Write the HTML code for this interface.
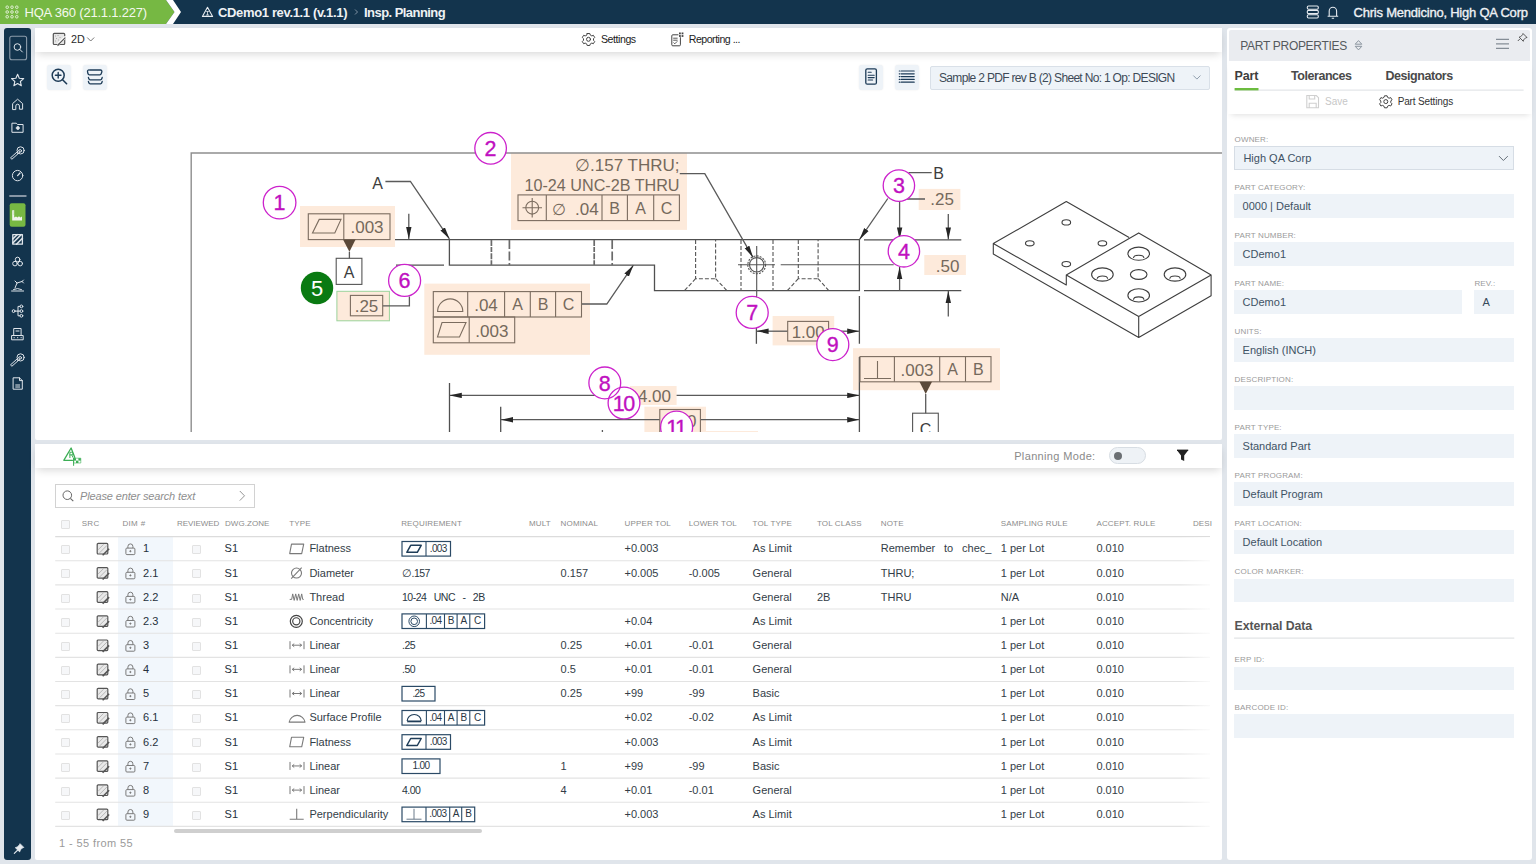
<!DOCTYPE html>
<html><head><meta charset="utf-8">
<style>
*{box-sizing:border-box;margin:0;padding:0}
html,body{width:1536px;height:864px;overflow:hidden}
body{position:relative;background:#e0e5eb;font-family:"Liberation Sans",sans-serif;color:#333}
.a{position:absolute}
.t{position:absolute;white-space:nowrap;line-height:1}
#topbar{left:0;top:0;width:1536px;height:24px;background:#13344d}
#side{left:4px;top:28px;width:27px;height:832px;background:#13344d;border-radius:3px}
#dpanel{left:35px;top:28px;width:1187px;height:412px;background:#fff;border-radius:2px;overflow:hidden}
#tpanel{left:35px;top:444px;width:1187px;height:416px;background:#fff;border-radius:2px;overflow:hidden}
#rpanel{left:1227.2px;top:28.2px;width:304.7px;height:832px;background:#fff;border-radius:3px;overflow:hidden}
.btn{position:absolute;width:24px;height:25px;background:#eef3f8;border-radius:3px;box-shadow:0 0 2px rgba(0,0,0,.08)}
</style></head><body>

<!-- TOP BAR -->
<div id="topbar" class="a">
<svg class="a" style="left:0;top:0" width="1536" height="24">
<polygon points="0,0 166,0 174.5,12 166,24 0,24" fill="#76b843"/>
<polygon points="166,0 173,0 181,12 173,24 166,24 174.5,12" fill="#ffffff"/>
<g fill="none" stroke="#e8f2dc" stroke-width="0.9">
<circle cx="7.2" cy="7.2" r="1.3"/><circle cx="12" cy="7.2" r="1.3"/><circle cx="16.8" cy="7.2" r="1.3"/>
<circle cx="7.2" cy="12" r="1.3"/><circle cx="12" cy="12" r="1.3"/><circle cx="16.8" cy="12" r="1.3"/>
<circle cx="7.2" cy="16.8" r="1.3"/><circle cx="12" cy="16.8" r="1.3"/><circle cx="16.8" cy="16.8" r="1.3"/>
</g>
<g fill="none" stroke="#e6ebf0" stroke-width="1.1" stroke-linejoin="round">
<path d="M207.5 7.3 L212.6 16.4 L202.4 16.4 Z"/>
<path d="M206.2 11.5 h2.6 M207.5 11.5 v3.5 M206 15 h3" stroke-width="0.8"/>
</g>
<path d="M355 9.5 L357.5 12 L355 14.5" fill="none" stroke="#8a9bab" stroke-width="0.9"/>
<g fill="none" stroke="#e6ebf0" stroke-width="1.1">
<rect x="1307.3" y="6" width="11" height="3.2" rx="1.2"/>
<rect x="1307.3" y="10.4" width="11" height="3.2" rx="1.2"/>
<rect x="1307.3" y="14.8" width="11" height="3.2" rx="1.2"/>
<path d="M1327.6 16.2 h10.6 M1329.2 16 v-5 a3.7 3.7 0 0 1 7.4 0 v5 M1331.7 18.2 h2.4"/>
</g>
</svg>
<div class="t" style="left:24.5px;top:6px;font-size:13px;color:#f4f8ee;letter-spacing:-0.2px">HQA 360 (21.1.1.227)</div>
<div class="t" style="left:218px;top:6px;font-size:13px;font-weight:bold;color:#eef1f4;letter-spacing:-0.35px">CDemo1 rev.1.1 (v.1.1)</div>
<div class="t" style="left:364px;top:6px;font-size:13px;font-weight:bold;color:#eef1f4;letter-spacing:-0.55px">Insp. Planning</div>
<div class="t" style="left:1353.5px;top:6px;font-size:13px;color:#eef1f4;letter-spacing:-0.22px;-webkit-text-stroke:0.35px #eef1f4">Chris Mendicino, High QA Corp</div>
</div>

<!-- SIDEBAR -->
<div id="side" class="a"></div>
<svg class="a" style="left:0;top:0" width="36" height="864">
<g fill="none" stroke="#dfe5eb" stroke-width="1" stroke-linejoin="round" stroke-linecap="round">
<rect x="9.8" y="36.3" width="16.8" height="23.5" rx="2" stroke="#8d9cab" stroke-width="1.1"/>
<circle cx="17.4" cy="47" r="3.3"/><path d="M19.8 49.4 L22.4 52"/>
<path d="M17.60 74.20 L19.30 78.25 L23.69 78.62 L20.36 81.50 L21.36 85.78 L17.60 83.50 L13.84 85.78 L14.84 81.50 L11.51 78.62 L15.90 78.25 Z" stroke-width="1.1"/>
<path d="M12.6 109.2 v-5.6 l5 -4.4 l5 4.4 v5.6 h-3.2 v-3.2 a1.8 1.8 0 0 0 -3.6 0 v3.2 Z"/>
<path d="M12.3 123.2 h4 l1.2 1.3 h5.6 v7.8 h-10.8 Z"/><path d="M16.6 127.2 l1.3 -0.8 l1.3 0.8 v1.6 l-1.3 0.8 l-1.3 -0.8 Z" fill="#dfe5eb"/>
<path d="M10.8 157.6 L16.6 152.4 L18 153.8 L12.2 159 Z"/><circle cx="20.6" cy="150.4" r="3.6"/><circle cx="20.2" cy="150.8" r="1.3"/><path d="M16.6 152.4 L18.4 150.6 M18 153.8 L19.8 152"/>
<circle cx="17.6" cy="175.6" r="5.2"/><path d="M17.6 175.6 l2.4 -2.6" stroke-width="1.3"/>
<path d="M10 196 h15.8" stroke="#8796a5" stroke-width="1.8"/>
</g>
<rect x="9.7" y="203.2" width="15.8" height="23.5" rx="2" fill="#77b843"/>
<path d="M12.2 210.3 H14.2 V217.5 L16 216.5 L17.5 217.6 L19 216.3 L20.3 217.6 L22 216.6 V220.6 H12.2 Z" fill="#f2f5ef"/>
<path d="M14.2 212 h-0.8 M14.2 214 h-0.8" stroke="#77b843" stroke-width="0.6"/>
<g fill="none" stroke="#dfe5eb" stroke-width="1" stroke-linejoin="round" stroke-linecap="round">
<rect x="12.8" y="234.6" width="9.6" height="9.6" stroke-width="1.3"/>
<path d="M12.8 239 l4.3 -4.3 M12.8 243 l8.3 -8.3 M16.5 244.2 l5.9 -5.9" stroke-width="1.6"/>
<circle cx="17.6" cy="259.5" r="2.3"/><circle cx="15" cy="263.6" r="2.3"/><circle cx="20.2" cy="263.6" r="2.3"/>
<path d="M11.6 291 h12 M13.5 289.5 q4 -2 8 0 M15 288 l2 -5 l5 -1.5 M17 283 l-2 -2 M22 281.5 l1.5 -1.5 M22 281.5 l1.5 1.5"/>
<circle cx="13.6" cy="311.1" r="1.4"/><circle cx="21.4" cy="306.4" r="1.4"/><circle cx="21.4" cy="311.1" r="1.4"/><circle cx="21.4" cy="315.8" r="1.4"/>
<path d="M15 311.1 h5 M18 311.1 v-4.7 h2 M18 311.1 v4.7 h2"/>
<rect x="14.1" y="328.5" width="7" height="7"/><path d="M12 335.5 h11.2 v4.3 h-11.2 Z M14 337.7 h0.3 M17.5 337.7 h0.3 M21 337.7 h0.3 M16 331 h3"/>
<path d="M10.8 364.6 L16.6 359.4 L18 360.8 L12.2 366 Z"/><circle cx="20.6" cy="357.4" r="3.6"/><circle cx="20.2" cy="357.8" r="1.3"/><path d="M16.6 359.4 L18.4 357.6 M18 360.8 L19.8 359"/>
<path d="M13.5 377.8 h6 l2.8 2.8 v8.6 h-8.8 Z M19.5 377.8 v2.8 h2.8 M15.7 385 h4 M15.7 387 h4"/>
<path d="M20.3 843.9 L23.8 847.4 L22.2 848.1 L20.4 849.9 L19.7 851.9 L15.3 847.7 L17.2 847 L19.1 845.2 Z" fill="#e8ecf0" stroke-width="0.8"/><path d="M17.8 850 L14.3 853.3" stroke-width="1.1"/>
</g>
</svg>

<!-- DRAWING PANEL -->
<div id="dpanel" class="a"></div>
<!-- DRAWING -->
<svg class="a" style="left:35px;top:52px" width="1187" height="380" viewBox="35 52 1187 380">
<defs>
<marker id="ar" viewBox="0 0 12 6" refX="12" refY="3" markerWidth="12" markerHeight="6" markerUnits="userSpaceOnUse" orient="auto"><path d="M0 0.3 L12 3 L0 5.7 Z" fill="#262626"/></marker>
</defs>
<!-- peach highlights -->
<g fill="#fdeadb">
<rect x="300" y="206" width="95" height="41"/>
<rect x="511" y="152.7" width="176" height="77.2"/>
<rect x="918.7" y="188.9" width="41.7" height="21.1"/>
<rect x="924.3" y="255" width="41.6" height="20"/>
<rect x="424.3" y="283.6" width="165.7" height="71.2"/>
<rect x="772.6" y="316" width="61.6" height="29.4"/>
<rect x="853" y="348.2" width="147" height="42"/>
<rect x="630" y="386" width="46.6" height="19"/>
<rect x="644.4" y="406.7" width="61.6" height="30"/>
<rect x="692" y="431" width="66" height="6"/>
</g>
<rect x="336.9" y="291.3" width="52.5" height="29.5" fill="#fdeadb" stroke="#9bd39b" stroke-width="1"/>
<!-- frame -->
<path d="M191.2 440 V153 H1230" fill="none" stroke="#8e8e8e" stroke-width="1.4"/>
<!-- part outline (front view) -->
<g fill="none" stroke="#505050" stroke-width="1.3">
<path d="M395 239.6 H449.4 M449.4 239.6 V265.2 H654.5 V290.7 H859.4 V239.6 H449.4"/>
<path d="M396 265.2 H444"/>
<path d="M864 239.8 H961.3 M864 290.7 H961.3"/>
<path d="M859.4 296 V343.8 M859.4 357 V440"/>
<path d="M449.5 383 V440 M500.7 406.8 V440"/>
<path d="M756.4 296 V343.8"/>
</g>
<!-- hidden lines -->
<g fill="none" stroke="#555" stroke-width="1.1" stroke-dasharray="4 2">
<path d="M491.4 240 V265 M594.2 240 V265" stroke="#6a6a6a" stroke-width="1.7" stroke-dasharray="6 1 5 1.2"/>
<path d="M509.4 240 V265 M612.2 240 V265" stroke="#6a6a6a" stroke-width="1.7" stroke-dasharray="9 2.5"/>
<path d="M695.6 240 V278.7 H715.6 V240 M695.6 278.7 L684.4 290.7 M715.6 278.7 L727 290.7"/>
<path d="M798.3 240 V278.7 H818.1 V240 M798.3 278.7 L787.2 290.7 M818.1 278.7 L828.9 290.7"/>
<path d="M741 240 V290.7 M773 240 V290.7"/>
<circle cx="756.7" cy="264.8" r="8.9" stroke-dasharray="2 1.2"/>
</g>
<g fill="none" stroke="#555" stroke-width="1.1">
<circle cx="756.7" cy="264.8" r="7.2"/>
<path d="M738 264.8 H775 M780.7 264.8 H893.7 M756.7 246 V296"/>
</g>
<!-- leaders & dims -->
<g fill="none" stroke="#5a5a5a" stroke-width="1.3">
<path d="M385.4 181.5 H410.4 L449.4 238.8" marker-end="url(#ar)"/>
<path d="M408.8 213.8 V239" marker-end="url(#ar)"/>
<path d="M679.8 173.7 H704.8 L753 257.4" marker-end="url(#ar)"/>
<path d="M581.5 304 H606.8 L633.4 265.2" marker-end="url(#ar)"/>
<path d="M887.8 198.5 L859.6 239.4" marker-end="url(#ar)"/>
<path d="M899.6 201 V239.4" marker-end="url(#ar)"/>
<path d="M948.3 213.9 V239.4" marker-end="url(#ar)"/>
<path d="M899.6 290.7 V267" marker-end="url(#ar)"/>
<path d="M948.3 316.6 V291" marker-end="url(#ar)"/>
<path d="M908.5 172.6 H931.7 M904.8 199 H925"/>
<path d="M382.7 305.8 H409.4 V296.5"/>
<path d="M349.4 251.7 V258.3"/>
<path d="M925.7 394 V413.2"/>
<path d="M787.7 331.2 H756.6" marker-end="url(#ar)"/>
<path d="M828.6 331.2 H859.2" marker-end="url(#ar)"/>
<path d="M620 395.4 H449.8" marker-end="url(#ar)"/>
<path d="M676.6 395.4 H859.2" marker-end="url(#ar)"/>
<path d="M659.8 419.7 H501" marker-end="url(#ar)"/>
<path d="M700.4 419.7 H859.2" marker-end="url(#ar)"/>
<path d="M602.4 430 V440"/>
</g>
<!-- FCF boxes -->
<g fill="none" stroke="#7b6c5f" stroke-width="1.1">
<rect x="308.3" y="213.8" width="81.7" height="25.8"/><path d="M343.8 213.8 V239.6"/>
<path d="M319.2 219.4 H341 L334.8 233 H312.5 Z"/>
<rect x="518" y="194.9" width="161.4" height="25.7"/>
<path d="M546.3 194.9 V220.6 M602 194.9 V220.6 M627.4 194.9 V220.6 M653.7 194.9 V220.6"/>
<circle cx="532.2" cy="207.7" r="6.4"/><path d="M522.5 207.7 H542 M532.2 198 V217.5"/>
<rect x="433.3" y="291.6" width="148.2" height="25.4"/>
<path d="M467.7 291.6 V317 M504.6 291.6 V317 M530.3 291.6 V317 M555.6 291.6 V317"/>
<rect x="433.3" y="317" width="81.4" height="25.8"/><path d="M469.2 317 V342.8"/>
<path d="M437.6 311.5 A12.6 12.6 0 0 1 462.8 311.5 Z"/>
<path d="M442 322.5 H466 L459.5 337 H437.5 Z"/>
<rect x="350.4" y="295.4" width="32.3" height="20.4"/>
<rect x="336.2" y="258.3" width="25.7" height="26.1" stroke="#555"/>
<rect x="787.7" y="321.4" width="40.9" height="19.6"/>
<rect x="860" y="356.6" width="131" height="25.2"/>
<path d="M894.4 356.6 V381.8 M939.7 356.6 V381.8 M965.5 356.6 V381.8"/>
<path d="M864 378.5 H891 M877.5 378.5 V361"/>
<rect x="912.6" y="413.2" width="25.7" height="30" stroke="#555"/>
<rect x="659.8" y="409.5" width="40.6" height="30"/>
</g>
<path d="M343 239.6 H355.6 L349.4 251.7 Z" fill="#5b4939"/>
<path d="M919.5 381.8 H932 L925.7 394 Z" fill="#5b4939"/>
<!-- drawing texts -->
<g font-family="Liberation Sans" fill="#75695c" font-size="17">
<text x="367" y="233.3" text-anchor="middle">.003</text>
<text x="679.5" y="170.6" text-anchor="end">∅.157 THRU;</text>
<text x="679.5" y="190.8" text-anchor="end" textLength="155" lengthAdjust="spacingAndGlyphs">10-24 UNC-2B THRU</text>
<text x="552" y="214.5" font-size="16">∅</text>
<text x="575" y="214.5" text-anchor="start" font-size="17">.04</text>
<text x="614.7" y="214" text-anchor="middle" font-size="16">B</text>
<text x="640.5" y="214" text-anchor="middle" font-size="16">A</text>
<text x="666.5" y="214" text-anchor="middle" font-size="16">C</text>
<text x="486" y="310.5" text-anchor="middle">.04</text>
<text x="517.5" y="310" text-anchor="middle" font-size="16">A</text>
<text x="543" y="310" text-anchor="middle" font-size="16">B</text>
<text x="568.5" y="310" text-anchor="middle" font-size="16">C</text>
<text x="491.9" y="336.5" text-anchor="middle">.003</text>
<text x="366.5" y="312" text-anchor="middle">.25</text>
<text x="953.9" y="205.4" text-anchor="end">.25</text>
<text x="959.5" y="272" text-anchor="end">.50</text>
<text x="808.2" y="338" text-anchor="middle">1.00</text>
<text x="917" y="375.5" text-anchor="middle">.003</text>
<text x="952.6" y="375" text-anchor="middle" font-size="16">A</text>
<text x="978.3" y="375" text-anchor="middle" font-size="16">B</text>
<text x="671" y="402" text-anchor="end">4.00</text>
<text x="680" y="426.5" text-anchor="middle">2.00</text>
</g>
<g font-family="Liberation Sans" fill="#3d3d3d" font-size="16">
<text x="377.5" y="188.5" text-anchor="middle">A</text>
<text x="349" y="278" text-anchor="middle">A</text>
<text x="938.5" y="178.5" text-anchor="middle">B</text>
<text x="925.5" y="435" text-anchor="middle">C</text>
</g>
<!-- isometric -->
<g fill="none" stroke="#3e3e3e" stroke-width="1.1" stroke-linejoin="round">
<path d="M1066.3 201.6 L1129.1 237.5 M1066.3 201.6 L993.3 243.6 V254 L1138.7 337.4 L1211.1 295.7 V274.9 L1138.7 232.9 L1066.3 274.9 L1138.7 316.6 L1211.1 274.9 M1138.7 316.6 V337.4 M1066.3 274.9 V285 L993.3 243.6"/>
<ellipse cx="1066.3" cy="222.4" rx="4.3" ry="2.6"/>
<ellipse cx="1029.8" cy="243.3" rx="4.3" ry="2.6"/>
<ellipse cx="1102.4" cy="243.3" rx="4.3" ry="2.6"/>
<ellipse cx="1066.3" cy="264.1" rx="4.3" ry="2.6"/>
<ellipse cx="1138.7" cy="253.7" rx="10.8" ry="6.6"/><path d="M1133.5 258 a5.2 2.8 0 0 1 10.4 0"/>
<ellipse cx="1102.4" cy="274.5" rx="10.8" ry="6.6"/><path d="M1097.2 278.8 a5.2 2.8 0 0 1 10.4 0"/>
<ellipse cx="1175" cy="274.5" rx="10.8" ry="6.6"/><path d="M1169.8 278.8 a5.2 2.8 0 0 1 10.4 0"/>
<ellipse cx="1138.7" cy="295.4" rx="10.8" ry="6.6"/><path d="M1133.5 299.7 a5.2 2.8 0 0 1 10.4 0"/>
<ellipse cx="1138.7" cy="274.5" rx="8.3" ry="4.9"/>
</g>
<!-- green balloon 5 -->
<circle cx="317" cy="288" r="16.2" fill="#0a7a12"/>
<text x="317" y="296" text-anchor="middle" font-family="Liberation Sans" font-size="22" fill="#fff">5</text>
<!-- magenta balloons -->
<g fill="#fff">
<circle cx="279.6" cy="202.6" r="16.3"/>
<circle cx="490.6" cy="148.3" r="15.8"/>
<circle cx="898.9" cy="185.6" r="15.7"/>
<circle cx="903.9" cy="251.3" r="15.7"/>
<circle cx="404.6" cy="280.4" r="16"/>
<circle cx="752.2" cy="312.4" r="16"/>
<circle cx="832.8" cy="344.6" r="16"/>
<circle cx="604.8" cy="382.9" r="15.9"/>
<circle cx="624" cy="403" r="15.9"/>
<circle cx="676.6" cy="427.2" r="16"/>
</g>
<g fill="none" stroke="#cc22cc" stroke-width="1.3">
<circle cx="279.6" cy="202.6" r="16.3"/>
<circle cx="490.6" cy="148.3" r="15.8"/>
<circle cx="898.9" cy="185.6" r="15.7"/>
<circle cx="903.9" cy="251.3" r="15.7"/>
<circle cx="404.6" cy="280.4" r="16"/>
<circle cx="752.2" cy="312.4" r="16"/>
<circle cx="832.8" cy="344.6" r="16"/>
<circle cx="604.8" cy="382.9" r="15.9"/>
<circle cx="624" cy="403" r="15.9"/>
<circle cx="676.6" cy="427.2" r="16"/>
</g>
<g font-family="Liberation Sans" fill="#c010c0" stroke="#c010c0" stroke-width="0.35" font-size="21.5" text-anchor="middle">
<text x="279.6" y="210.3">1</text>
<text x="490.6" y="156.0">2</text>
<text x="898.9" y="193.3">3</text>
<text x="903.9" y="259.0">4</text>
<text x="404.6" y="288.1">6</text>
<text x="752.2" y="320.1">7</text>
<text x="832.8" y="352.3">9</text>
<text x="604.8" y="390.6">8</text>
<text x="623.3" y="410.7" letter-spacing="-1.5">10</text>
<text x="675.9" y="434.9" letter-spacing="-1.5">11</text>
</g>
</svg>

<div class="a" style="left:35px;top:28px;width:1187px;height:24px;background:#fff;box-shadow:0 4px 8px -2px rgba(0,0,0,0.16)"></div>
<svg class="a" style="left:35px;top:28px" width="1187" height="412">
<g transform="translate(-35,-28)" fill="none" stroke-linejoin="round" stroke-linecap="round">
<!-- 2D icon -->
<rect x="53.3" y="33.3" width="11.4" height="11.2" rx="1" fill="#e6e6e6" stroke="#555" stroke-width="1.2"/>
<path d="M55.5 36 h0.1 M58 35.5 h0.1 M56.5 38.5 h0.1 M60 37.5 h0.1 M55.5 41 h0.1 M58.5 40 h0.1" stroke="#999" stroke-width="0.9"/>
<path d="M58.5 44 l6.5 -6.5" stroke="#fff" stroke-width="2.6"/>
<path d="M58.3 44.6 l6.7 -6.7" stroke="#555" stroke-width="1.3"/>
<path d="M57.7 45.4 l0.8 -1.6 l0.8 0.8 Z" fill="#555" stroke="#555" stroke-width="0.6"/>
<path d="M87.5 37.8 l3.2 3.2 l3.2 -3.2" stroke="#666" stroke-width="0.9"/>
<!-- settings gear -->
<g transform="translate(588.5,39.3)" stroke="#444" stroke-width="1">
<path d="M-1.3 -5.8 h2.6 l0.5 1.6 l1.5 0.8 l1.6 -0.6 l1.3 2.2 l-1.2 1.2 v1.6 l1.2 1.2 l-1.3 2.2 l-1.6 -0.6 l-1.5 0.8 l-0.5 1.6 h-2.6 l-0.5 -1.6 l-1.5 -0.8 l-1.6 0.6 l-1.3 -2.2 l1.2 -1.2 v-1.6 l-1.2 -1.2 l1.3 -2.2 l1.6 0.6 l1.5 -0.8 Z"/>
<circle cx="0" cy="0" r="2"/>
</g>
<!-- reporting icon -->
<g stroke="#444" stroke-width="1">
<path d="M678 34.8 h-5.2 a1 1 0 0 0 -1 1 v9 a1 1 0 0 0 1 1 h6.6 a1 1 0 0 0 1 -1 v-7.2"/><path d="M673.6 38.2 h3.6 M673.6 40.2 h3.6 M673.8 42.8 l1 1 l2.2 -2.2" stroke-width="0.9"/>
</g>
<g fill="#444"><rect x="679" y="32.5" width="1.8" height="1.8"/><rect x="681.6" y="32.5" width="1.8" height="1.8"/><rect x="679" y="35.1" width="1.8" height="1.8"/><rect x="681.6" y="35.1" width="1.8" height="1.8"/></g>
</g>
</svg>
<div class="t" style="left:71px;top:34.3px;font-size:10.8px;color:#2a2a2a;letter-spacing:-0.1px">2D</div>
<div class="t" style="left:601px;top:34px;font-size:10.6px;color:#222;letter-spacing:-0.45px">Settings</div>
<div class="t" style="left:688.8px;top:34px;font-size:10.6px;color:#222;letter-spacing:-0.5px">Reporting ...</div>
<!-- zoom / layers buttons -->
<div class="btn" style="left:47px;top:64.5px"></div>
<div class="btn" style="left:83px;top:64.5px"></div>
<div class="btn" style="left:859.3px;top:64.8px"></div>
<div class="btn" style="left:894.7px;top:64.8px"></div>
<div class="a" style="left:930px;top:65.5px;width:280.4px;height:24.2px;background:#eef3f8;border:1px solid #d9e0e8;border-radius:2px"></div>
<div class="t" style="left:939px;top:71.5px;font-size:12px;color:#3d4a57;letter-spacing:-0.68px">Sample 2 PDF rev B (2) Sheet No: 1 Op: DESIGN</div>
<svg class="a" style="left:0;top:0;pointer-events:none" width="1536" height="120">
<g fill="none" stroke="#1d3b57" stroke-linecap="round" stroke-linejoin="round">
<circle cx="58.2" cy="75.3" r="6" stroke-width="1.5"/><path d="M62.6 79.7 l4 4" stroke-width="1.6"/><path d="M58.2 72.5 v5.6 M55.4 75.3 h5.6" stroke-width="1.4"/>
<path d="M89.5 70 h11 a1.5 1.5 0 0 1 1.3 2 l-0.6 1.8 a1.5 1.5 0 0 1 -1.4 1 h-10.4 a1.5 1.5 0 0 1 -1.4 -1 l-0.4 -1.8 a1.5 1.5 0 0 1 1.9 -2 Z" stroke-width="1.3"/>
<path d="M88.4 77.3 l0.4 1.5 a1.5 1.5 0 0 0 1.4 1 h10.2 a1.5 1.5 0 0 0 1.4 -1 l0.4 -1.5" stroke-width="1.3"/>
<path d="M88.4 81.3 l0.4 1.5 a1.5 1.5 0 0 0 1.4 1 h10.2 a1.5 1.5 0 0 0 1.4 -1 l0.4 -1.5" stroke-width="1.3"/>
<rect x="865.8" y="68.8" width="10.6" height="15.4" rx="1.5" stroke-width="1.3"/>
<path d="M868.2 72.2 h3 M868.2 75.2 h6 M868.2 77.6 h6 M868.2 80 h4.4" stroke-width="1.1"/>
<path d="M901.2 71 h13 M901.2 73.8 h13 M901.2 76.6 h13 M901.2 79.4 h13 M901.2 82.2 h13" stroke-width="1.2"/>
<path d="M899.3 71 h0.6 M899.3 73.8 h0.6 M899.3 76.6 h0.6 M899.3 79.4 h0.6 M899.3 82.2 h0.6" stroke-width="1.2"/>
<path d="M1193.6 75.8 l3.3 3.3 l3.3 -3.3" stroke="#8796a6" stroke-width="0.9"/>
</g>
</svg>

<!-- TABLE PANEL -->
<div id="tpanel" class="a"></div>
<!-- TABLE -->
<div class="a" style="left:35px;top:444px;width:1187px;height:24px;background:#fff;box-shadow:0 4px 8px -2px rgba(0,0,0,0.16)"></div>
<div class="t" style="left:1014.2px;top:451px;font-size:11px;color:#8a8a8a;letter-spacing:0.35px">Planning Mode:</div>
<div class="a" style="left:1109.4px;top:447.4px;width:36.6px;height:17.1px;border-radius:9px;background:#eef2f6;border:1px solid #d7dde3"></div>
<div class="a" style="left:1114px;top:452px;width:8px;height:8px;border-radius:4px;background:#6b6f73"></div>
<div class="a" style="left:55.2px;top:484.4px;width:199.6px;height:23.3px;border:1px solid #d2d2d2;background:#fff"></div>
<div class="t" style="left:80.1px;top:490.5px;font-size:11px;font-style:italic;color:#8e8e8e;letter-spacing:-0.15px">Please enter search text</div>
<div class="t" style="left:81.7px;top:519.9px;font-size:8px;color:#8c8c8c;letter-spacing:0.35px">SRC</div>
<div class="t" style="left:122.4px;top:519.9px;font-size:8px;color:#8c8c8c;letter-spacing:0.35px">DIM #</div>
<div class="t" style="left:177px;top:519.9px;font-size:8px;color:#8c8c8c;letter-spacing:-0.05px">REVIEWED</div>
<div class="t" style="left:225px;top:519.9px;font-size:8px;color:#8c8c8c;letter-spacing:0.05px">DWG.ZONE</div>
<div class="t" style="left:289.3px;top:519.9px;font-size:8px;color:#8c8c8c;letter-spacing:0.15px">TYPE</div>
<div class="t" style="left:401.2px;top:519.9px;font-size:8px;color:#8c8c8c;letter-spacing:0.15px">REQUIREMENT</div>
<div class="t" style="left:529px;top:519.9px;font-size:8px;color:#8c8c8c;letter-spacing:0.15px">MULT</div>
<div class="t" style="left:560.6px;top:519.9px;font-size:8px;color:#8c8c8c;letter-spacing:0.15px">NOMINAL</div>
<div class="t" style="left:624.5px;top:519.9px;font-size:8px;color:#8c8c8c;letter-spacing:0.15px">UPPER TOL</div>
<div class="t" style="left:688.7px;top:519.9px;font-size:8px;color:#8c8c8c;letter-spacing:0.15px">LOWER TOL</div>
<div class="t" style="left:752.6px;top:519.9px;font-size:8px;color:#8c8c8c;letter-spacing:0.15px">TOL TYPE</div>
<div class="t" style="left:816.9px;top:519.9px;font-size:8px;color:#8c8c8c;letter-spacing:0.15px">TOL CLASS</div>
<div class="t" style="left:880.8px;top:519.9px;font-size:8px;color:#8c8c8c;letter-spacing:0.15px">NOTE</div>
<div class="t" style="left:1000.8px;top:519.9px;font-size:8px;color:#8c8c8c;letter-spacing:0.15px">SAMPLING RULE</div>
<div class="t" style="left:1096.4px;top:519.9px;font-size:8px;color:#8c8c8c;letter-spacing:0.15px">ACCEPT. RULE</div>
<div class="t" style="left:1192.9px;top:519.9px;font-size:8px;color:#8c8c8c;letter-spacing:0.15px">DESI</div>
<div class="a" style="left:118.4px;top:537px;width:54.5px;height:289.8px;background:#f2f7fc"></div>
<div class="a" style="left:61.4px;top:519.9px;width:9px;height:9px;border:1px solid #e2e2e2;background:#f6f7f9;border-radius:1px"></div>
<div class="a" style="left:61.4px;top:545.2px;width:9px;height:9px;border:1px solid #e2e2e2;background:#f6f7f9;border-radius:1px"></div>
<div class="a" style="left:192.1px;top:545.2px;width:9px;height:9px;border:1px solid #e2e2e2;background:#f6f7f9;border-radius:1px"></div>
<div class="t" style="left:143.1px;top:543.3px;font-size:11px;color:#26313c">1</div>
<div class="t" style="left:224.6px;top:543.3px;font-size:11px;color:#26313c">S1</div>
<div class="t" style="left:309.4px;top:543.3px;font-size:11px;color:#333d47">Flatness</div>
<div class="t" style="left:426.0px;top:543.7px;width:24.5px;text-align:center;font-size:10px;color:#2a3642;letter-spacing:-0.6px">.003</div>
<div class="t" style="left:624.5px;top:543.3px;font-size:11px;color:#333d47">+0.003</div>
<div class="t" style="left:752.6px;top:543.3px;font-size:11px;color:#333d47">As Limit</div>
<div class="t" style="left:1000.8px;top:543.3px;font-size:11px;color:#333d47">1 per Lot</div>
<div class="t" style="left:1096.4px;top:543.3px;font-size:11px;color:#333d47">0.010</div>
<div class="t" style="left:880.8px;top:543.3px;font-size:11px;color:#333d47;word-spacing:5.8px;">Remember to chec_</div>
<div class="a" style="left:61.4px;top:569.4px;width:9px;height:9px;border:1px solid #e2e2e2;background:#f6f7f9;border-radius:1px"></div>
<div class="a" style="left:192.1px;top:569.4px;width:9px;height:9px;border:1px solid #e2e2e2;background:#f6f7f9;border-radius:1px"></div>
<div class="t" style="left:143.1px;top:567.5px;font-size:11px;color:#26313c">2.1</div>
<div class="t" style="left:224.6px;top:567.5px;font-size:11px;color:#26313c">S1</div>
<div class="t" style="left:309.4px;top:567.5px;font-size:11px;color:#333d47">Diameter</div>
<div class="t" style="left:402px;top:567.5px;font-size:10.5px;color:#2a3642;letter-spacing:-0.5px;">∅.157</div>
<div class="t" style="left:560.6px;top:567.5px;font-size:11px;color:#333d47">0.157</div>
<div class="t" style="left:624.5px;top:567.5px;font-size:11px;color:#333d47">+0.005</div>
<div class="t" style="left:688.7px;top:567.5px;font-size:11px;color:#333d47">-0.005</div>
<div class="t" style="left:752.6px;top:567.5px;font-size:11px;color:#333d47">General</div>
<div class="t" style="left:1000.8px;top:567.5px;font-size:11px;color:#333d47">1 per Lot</div>
<div class="t" style="left:1096.4px;top:567.5px;font-size:11px;color:#333d47">0.010</div>
<div class="t" style="left:880.8px;top:567.5px;font-size:11px;color:#333d47;">THRU;</div>
<div class="a" style="left:61.4px;top:593.5px;width:9px;height:9px;border:1px solid #e2e2e2;background:#f6f7f9;border-radius:1px"></div>
<div class="a" style="left:192.1px;top:593.5px;width:9px;height:9px;border:1px solid #e2e2e2;background:#f6f7f9;border-radius:1px"></div>
<div class="t" style="left:143.1px;top:591.6px;font-size:11px;color:#26313c">2.2</div>
<div class="t" style="left:224.6px;top:591.6px;font-size:11px;color:#26313c">S1</div>
<div class="t" style="left:309.4px;top:591.6px;font-size:11px;color:#333d47">Thread</div>
<div class="t" style="left:402px;top:591.7px;font-size:10.5px;color:#2a3642;letter-spacing:-0.5px;word-spacing:5px;">10-24  UNC  -  2B</div>
<div class="t" style="left:752.6px;top:591.6px;font-size:11px;color:#333d47">General</div>
<div class="t" style="left:816.9px;top:591.6px;font-size:11px;color:#333d47">2B</div>
<div class="t" style="left:1000.8px;top:591.6px;font-size:11px;color:#333d47">N/A</div>
<div class="t" style="left:1096.4px;top:591.6px;font-size:11px;color:#333d47">0.010</div>
<div class="t" style="left:880.8px;top:591.6px;font-size:11px;color:#333d47;">THRU</div>
<div class="a" style="left:61.4px;top:617.6px;width:9px;height:9px;border:1px solid #e2e2e2;background:#f6f7f9;border-radius:1px"></div>
<div class="a" style="left:192.1px;top:617.6px;width:9px;height:9px;border:1px solid #e2e2e2;background:#f6f7f9;border-radius:1px"></div>
<div class="t" style="left:143.1px;top:615.8px;font-size:11px;color:#26313c">2.3</div>
<div class="t" style="left:224.6px;top:615.8px;font-size:11px;color:#26313c">S1</div>
<div class="t" style="left:309.4px;top:615.8px;font-size:11px;color:#333d47">Concentricity</div>
<div class="t" style="left:426.4px;top:616.1px;width:18.1px;text-align:center;font-size:10px;color:#2a3642;letter-spacing:-0.6px">.04</div>
<div class="t" style="left:444.5px;top:616.1px;width:12.6px;text-align:center;font-size:10px;color:#2a3642;letter-spacing:-0.6px">B</div>
<div class="t" style="left:457.1px;top:616.1px;width:12.7px;text-align:center;font-size:10px;color:#2a3642;letter-spacing:-0.6px">A</div>
<div class="t" style="left:469.8px;top:616.1px;width:14.8px;text-align:center;font-size:10px;color:#2a3642;letter-spacing:-0.6px">C</div>
<div class="t" style="left:624.5px;top:615.8px;font-size:11px;color:#333d47">+0.04</div>
<div class="t" style="left:752.6px;top:615.8px;font-size:11px;color:#333d47">As Limit</div>
<div class="t" style="left:1000.8px;top:615.8px;font-size:11px;color:#333d47">1 per Lot</div>
<div class="t" style="left:1096.4px;top:615.8px;font-size:11px;color:#333d47">0.010</div>
<div class="a" style="left:61.4px;top:641.8px;width:9px;height:9px;border:1px solid #e2e2e2;background:#f6f7f9;border-radius:1px"></div>
<div class="a" style="left:192.1px;top:641.8px;width:9px;height:9px;border:1px solid #e2e2e2;background:#f6f7f9;border-radius:1px"></div>
<div class="t" style="left:143.1px;top:639.9px;font-size:11px;color:#26313c">3</div>
<div class="t" style="left:224.6px;top:639.9px;font-size:11px;color:#26313c">S1</div>
<div class="t" style="left:309.4px;top:639.9px;font-size:11px;color:#333d47">Linear</div>
<div class="t" style="left:402px;top:640.0px;font-size:10.5px;color:#2a3642;letter-spacing:-0.5px;">.25</div>
<div class="t" style="left:560.6px;top:639.9px;font-size:11px;color:#333d47">0.25</div>
<div class="t" style="left:624.5px;top:639.9px;font-size:11px;color:#333d47">+0.01</div>
<div class="t" style="left:688.7px;top:639.9px;font-size:11px;color:#333d47">-0.01</div>
<div class="t" style="left:752.6px;top:639.9px;font-size:11px;color:#333d47">General</div>
<div class="t" style="left:1000.8px;top:639.9px;font-size:11px;color:#333d47">1 per Lot</div>
<div class="t" style="left:1096.4px;top:639.9px;font-size:11px;color:#333d47">0.010</div>
<div class="a" style="left:61.4px;top:666.0px;width:9px;height:9px;border:1px solid #e2e2e2;background:#f6f7f9;border-radius:1px"></div>
<div class="a" style="left:192.1px;top:666.0px;width:9px;height:9px;border:1px solid #e2e2e2;background:#f6f7f9;border-radius:1px"></div>
<div class="t" style="left:143.1px;top:664.1px;font-size:11px;color:#26313c">4</div>
<div class="t" style="left:224.6px;top:664.1px;font-size:11px;color:#26313c">S1</div>
<div class="t" style="left:309.4px;top:664.1px;font-size:11px;color:#333d47">Linear</div>
<div class="t" style="left:402px;top:664.1px;font-size:10.5px;color:#2a3642;letter-spacing:-0.5px;">.50</div>
<div class="t" style="left:560.6px;top:664.1px;font-size:11px;color:#333d47">0.5</div>
<div class="t" style="left:624.5px;top:664.1px;font-size:11px;color:#333d47">+0.01</div>
<div class="t" style="left:688.7px;top:664.1px;font-size:11px;color:#333d47">-0.01</div>
<div class="t" style="left:752.6px;top:664.1px;font-size:11px;color:#333d47">General</div>
<div class="t" style="left:1000.8px;top:664.1px;font-size:11px;color:#333d47">1 per Lot</div>
<div class="t" style="left:1096.4px;top:664.1px;font-size:11px;color:#333d47">0.010</div>
<div class="a" style="left:61.4px;top:690.1px;width:9px;height:9px;border:1px solid #e2e2e2;background:#f6f7f9;border-radius:1px"></div>
<div class="a" style="left:192.1px;top:690.1px;width:9px;height:9px;border:1px solid #e2e2e2;background:#f6f7f9;border-radius:1px"></div>
<div class="t" style="left:143.1px;top:688.2px;font-size:11px;color:#26313c">5</div>
<div class="t" style="left:224.6px;top:688.2px;font-size:11px;color:#26313c">S1</div>
<div class="t" style="left:309.4px;top:688.2px;font-size:11px;color:#333d47">Linear</div>
<div class="t" style="left:402px;top:688.6px;width:33px;text-align:center;font-size:10px;color:#2a3642;letter-spacing:-0.6px">.25</div>
<div class="t" style="left:560.6px;top:688.2px;font-size:11px;color:#333d47">0.25</div>
<div class="t" style="left:624.5px;top:688.2px;font-size:11px;color:#333d47">+99</div>
<div class="t" style="left:688.7px;top:688.2px;font-size:11px;color:#333d47">-99</div>
<div class="t" style="left:752.6px;top:688.2px;font-size:11px;color:#333d47">Basic</div>
<div class="t" style="left:1000.8px;top:688.2px;font-size:11px;color:#333d47">1 per Lot</div>
<div class="t" style="left:1096.4px;top:688.2px;font-size:11px;color:#333d47">0.010</div>
<div class="a" style="left:61.4px;top:714.2px;width:9px;height:9px;border:1px solid #e2e2e2;background:#f6f7f9;border-radius:1px"></div>
<div class="a" style="left:192.1px;top:714.2px;width:9px;height:9px;border:1px solid #e2e2e2;background:#f6f7f9;border-radius:1px"></div>
<div class="t" style="left:143.1px;top:712.4px;font-size:11px;color:#26313c">6.1</div>
<div class="t" style="left:224.6px;top:712.4px;font-size:11px;color:#26313c">S1</div>
<div class="t" style="left:309.4px;top:712.4px;font-size:11px;color:#333d47">Surface Profile</div>
<div class="t" style="left:426.4px;top:712.8px;width:18.1px;text-align:center;font-size:10px;color:#2a3642;letter-spacing:-0.6px">.04</div>
<div class="t" style="left:444.5px;top:712.8px;width:12.6px;text-align:center;font-size:10px;color:#2a3642;letter-spacing:-0.6px">A</div>
<div class="t" style="left:457.1px;top:712.8px;width:12.7px;text-align:center;font-size:10px;color:#2a3642;letter-spacing:-0.6px">B</div>
<div class="t" style="left:469.8px;top:712.8px;width:14.8px;text-align:center;font-size:10px;color:#2a3642;letter-spacing:-0.6px">C</div>
<div class="t" style="left:624.5px;top:712.4px;font-size:11px;color:#333d47">+0.02</div>
<div class="t" style="left:688.7px;top:712.4px;font-size:11px;color:#333d47">-0.02</div>
<div class="t" style="left:752.6px;top:712.4px;font-size:11px;color:#333d47">As Limit</div>
<div class="t" style="left:1000.8px;top:712.4px;font-size:11px;color:#333d47">1 per Lot</div>
<div class="t" style="left:1096.4px;top:712.4px;font-size:11px;color:#333d47">0.010</div>
<div class="a" style="left:61.4px;top:738.4px;width:9px;height:9px;border:1px solid #e2e2e2;background:#f6f7f9;border-radius:1px"></div>
<div class="a" style="left:192.1px;top:738.4px;width:9px;height:9px;border:1px solid #e2e2e2;background:#f6f7f9;border-radius:1px"></div>
<div class="t" style="left:143.1px;top:736.5px;font-size:11px;color:#26313c">6.2</div>
<div class="t" style="left:224.6px;top:736.5px;font-size:11px;color:#26313c">S1</div>
<div class="t" style="left:309.4px;top:736.5px;font-size:11px;color:#333d47">Flatness</div>
<div class="t" style="left:426.0px;top:736.9px;width:24.5px;text-align:center;font-size:10px;color:#2a3642;letter-spacing:-0.6px">.003</div>
<div class="t" style="left:624.5px;top:736.5px;font-size:11px;color:#333d47">+0.003</div>
<div class="t" style="left:752.6px;top:736.5px;font-size:11px;color:#333d47">As Limit</div>
<div class="t" style="left:1000.8px;top:736.5px;font-size:11px;color:#333d47">1 per Lot</div>
<div class="t" style="left:1096.4px;top:736.5px;font-size:11px;color:#333d47">0.010</div>
<div class="a" style="left:61.4px;top:762.6px;width:9px;height:9px;border:1px solid #e2e2e2;background:#f6f7f9;border-radius:1px"></div>
<div class="a" style="left:192.1px;top:762.6px;width:9px;height:9px;border:1px solid #e2e2e2;background:#f6f7f9;border-radius:1px"></div>
<div class="t" style="left:143.1px;top:760.7px;font-size:11px;color:#26313c">7</div>
<div class="t" style="left:224.6px;top:760.7px;font-size:11px;color:#26313c">S1</div>
<div class="t" style="left:309.4px;top:760.7px;font-size:11px;color:#333d47">Linear</div>
<div class="t" style="left:402px;top:761.1px;width:38px;text-align:center;font-size:10px;color:#2a3642;letter-spacing:-0.6px">1.00</div>
<div class="t" style="left:560.6px;top:760.7px;font-size:11px;color:#333d47">1</div>
<div class="t" style="left:624.5px;top:760.7px;font-size:11px;color:#333d47">+99</div>
<div class="t" style="left:688.7px;top:760.7px;font-size:11px;color:#333d47">-99</div>
<div class="t" style="left:752.6px;top:760.7px;font-size:11px;color:#333d47">Basic</div>
<div class="t" style="left:1000.8px;top:760.7px;font-size:11px;color:#333d47">1 per Lot</div>
<div class="t" style="left:1096.4px;top:760.7px;font-size:11px;color:#333d47">0.010</div>
<div class="a" style="left:61.4px;top:786.7px;width:9px;height:9px;border:1px solid #e2e2e2;background:#f6f7f9;border-radius:1px"></div>
<div class="a" style="left:192.1px;top:786.7px;width:9px;height:9px;border:1px solid #e2e2e2;background:#f6f7f9;border-radius:1px"></div>
<div class="t" style="left:143.1px;top:784.8px;font-size:11px;color:#26313c">8</div>
<div class="t" style="left:224.6px;top:784.8px;font-size:11px;color:#26313c">S1</div>
<div class="t" style="left:309.4px;top:784.8px;font-size:11px;color:#333d47">Linear</div>
<div class="t" style="left:402px;top:784.9px;font-size:10.5px;color:#2a3642;letter-spacing:-0.5px;">4.00</div>
<div class="t" style="left:560.6px;top:784.8px;font-size:11px;color:#333d47">4</div>
<div class="t" style="left:624.5px;top:784.8px;font-size:11px;color:#333d47">+0.01</div>
<div class="t" style="left:688.7px;top:784.8px;font-size:11px;color:#333d47">-0.01</div>
<div class="t" style="left:752.6px;top:784.8px;font-size:11px;color:#333d47">General</div>
<div class="t" style="left:1000.8px;top:784.8px;font-size:11px;color:#333d47">1 per Lot</div>
<div class="t" style="left:1096.4px;top:784.8px;font-size:11px;color:#333d47">0.010</div>
<div class="a" style="left:61.4px;top:810.9px;width:9px;height:9px;border:1px solid #e2e2e2;background:#f6f7f9;border-radius:1px"></div>
<div class="a" style="left:192.1px;top:810.9px;width:9px;height:9px;border:1px solid #e2e2e2;background:#f6f7f9;border-radius:1px"></div>
<div class="t" style="left:143.1px;top:809.0px;font-size:11px;color:#26313c">9</div>
<div class="t" style="left:224.6px;top:809.0px;font-size:11px;color:#26313c">S1</div>
<div class="t" style="left:309.4px;top:809.0px;font-size:11px;color:#333d47">Perpendicularity</div>
<div class="t" style="left:426.0px;top:809.4px;width:23.7px;text-align:center;font-size:10px;color:#2a3642;letter-spacing:-0.6px">.003</div>
<div class="t" style="left:449.7px;top:809.4px;width:12.0px;text-align:center;font-size:10px;color:#2a3642;letter-spacing:-0.6px">A</div>
<div class="t" style="left:461.7px;top:809.4px;width:13.0px;text-align:center;font-size:10px;color:#2a3642;letter-spacing:-0.6px">B</div>
<div class="t" style="left:624.5px;top:809.0px;font-size:11px;color:#333d47">+0.003</div>
<div class="t" style="left:752.6px;top:809.0px;font-size:11px;color:#333d47">As Limit</div>
<div class="t" style="left:1000.8px;top:809.0px;font-size:11px;color:#333d47">1 per Lot</div>
<div class="t" style="left:1096.4px;top:809.0px;font-size:11px;color:#333d47">0.010</div>
<div class="a" style="left:173.5px;top:829px;width:308px;height:4px;background:#cfcfcf;border-radius:2px"></div>
<div class="t" style="left:59px;top:837.5px;font-size:11px;color:#9a9a9a;letter-spacing:0.4px">1 - 55 from 55</div>
<svg class="a" style="left:0;top:0;pointer-events:none" width="1536" height="864">
<g fill="none" stroke="#3cae55" stroke-width="1.3" stroke-linejoin="round" stroke-linecap="round"><path d="M74.8 457.5 L71.1 448 L63.8 460.3 H72.5"/><path d="M69.9 457.6 V452.3 h1.8 a1.3 1.3 0 0 1 0 2.6 h-1.8 M71.8 454.9 l1.2 2.5" stroke-width="1"/></g>
<g fill="#3cae55"><rect x="73.6" y="458.2" width="2.4" height="2.4"/><rect x="78.4" y="458.2" width="2.4" height="2.4"/><rect x="76" y="460.6" width="2.4" height="2.4"/><rect x="73.6" y="463" width="0.01" height="0.01"/></g><path d="M73.6 458.2 H80.8 V463 H73.6 Z" fill="none" stroke="#3cae55" stroke-width="0.6"/><path d="M73.6 458 V465.8" stroke="#3cae55" stroke-width="1"/>
<path d="M1177 450.3 H1188.2 L1184.2 455.5 V461 L1181 459.5 V455.5 Z" fill="#222"/><path d="M1177 450.3 H1188.2" stroke="#222" stroke-width="1.4"/>
<circle cx="67.3" cy="495.2" r="4.3" fill="none" stroke="#666" stroke-width="1"/><path d="M70.4 498.3 L73.3 501.2" stroke="#666" stroke-width="1.1"/>
<path d="M239.8 491 L244.5 495.8 L239.8 500.6" fill="none" stroke="#888" stroke-width="0.9"/>
<path d="M55.2 536.6 H1210" stroke="#dcdcdc" stroke-width="1.2"/>
<path d="M55.2 560.8 H1210" stroke="#e3e3e3" stroke-width="1.1"/>
<path d="M55.2 584.9 H1210" stroke="#e3e3e3" stroke-width="1.1"/>
<path d="M55.2 609.0 H1210" stroke="#e3e3e3" stroke-width="1.1"/>
<path d="M55.2 633.2 H1210" stroke="#e3e3e3" stroke-width="1.1"/>
<path d="M55.2 657.4 H1210" stroke="#e3e3e3" stroke-width="1.1"/>
<path d="M55.2 681.5 H1210" stroke="#e3e3e3" stroke-width="1.1"/>
<path d="M55.2 705.6 H1210" stroke="#e3e3e3" stroke-width="1.1"/>
<path d="M55.2 729.8 H1210" stroke="#e3e3e3" stroke-width="1.1"/>
<path d="M55.2 754.0 H1210" stroke="#e3e3e3" stroke-width="1.1"/>
<path d="M55.2 778.1 H1210" stroke="#e3e3e3" stroke-width="1.1"/>
<path d="M55.2 802.2 H1210" stroke="#e3e3e3" stroke-width="1.1"/>
<path d="M55.2 826.4 H1210" stroke="#e3e3e3" stroke-width="1.1"/>
<g transform="translate(96.6,542.8)"><rect x="0.6" y="0.6" width="10.6" height="10.6" rx="1" fill="#e9e9e9" stroke="#555" stroke-width="1.2"/><path d="M3 10 L10.5 2.5 M1.5 7 L7 1.5" stroke="#aaa" stroke-width="0.8"/><path d="M6 12.5 L12.5 6" stroke="#555" stroke-width="1.6"/></g>
<g transform="translate(125.4,543.6)" fill="none" stroke="#7a7a7a" stroke-width="1"><rect x="0.5" y="4.5" width="9" height="6.5" rx="1"/><path d="M2.5 4.5 V2.8 a2.5 2.5 0 0 1 5 0 V4.5"/><circle cx="5" cy="7.6" r="0.6" fill="#7a7a7a"/></g>
<g transform="translate(289.7,548.6)" fill="none" stroke="#7a7a7a" stroke-width="1.1" stroke-linejoin="round"><path d="M1.8 -4.5 H14 L12 5 H0 Z"/></g>
<rect x="402" y="541.5" width="48.5" height="14.6" fill="none" stroke="#2b4a66" stroke-width="1.2"/>
<path d="M410.7 545.3 H421.2 L417.3 552.3 H406.8 Z" fill="none" stroke="#1f3d58" stroke-width="1.5" stroke-linejoin="round"/>
<path d="M426.0 541.5 V556.1" stroke="#2b4a66" stroke-width="1.1"/>
<g transform="translate(96.6,567.0)"><rect x="0.6" y="0.6" width="10.6" height="10.6" rx="1" fill="#e9e9e9" stroke="#555" stroke-width="1.2"/><path d="M3 10 L10.5 2.5 M1.5 7 L7 1.5" stroke="#aaa" stroke-width="0.8"/><path d="M6 12.5 L12.5 6" stroke="#555" stroke-width="1.6"/></g>
<g transform="translate(125.4,567.8)" fill="none" stroke="#7a7a7a" stroke-width="1"><rect x="0.5" y="4.5" width="9" height="6.5" rx="1"/><path d="M2.5 4.5 V2.8 a2.5 2.5 0 0 1 5 0 V4.5"/><circle cx="5" cy="7.6" r="0.6" fill="#7a7a7a"/></g>
<g transform="translate(289.7,572.75)" fill="none" stroke="#7a7a7a" stroke-width="1.1" stroke-linejoin="round"><circle cx="6.8" cy="0.3" r="5"/><path d="M1.5 5.8 L12 -5.2"/></g>
<g transform="translate(96.6,591.1)"><rect x="0.6" y="0.6" width="10.6" height="10.6" rx="1" fill="#e9e9e9" stroke="#555" stroke-width="1.2"/><path d="M3 10 L10.5 2.5 M1.5 7 L7 1.5" stroke="#aaa" stroke-width="0.8"/><path d="M6 12.5 L12.5 6" stroke="#555" stroke-width="1.6"/></g>
<g transform="translate(125.4,591.9)" fill="none" stroke="#7a7a7a" stroke-width="1"><rect x="0.5" y="4.5" width="9" height="6.5" rx="1"/><path d="M2.5 4.5 V2.8 a2.5 2.5 0 0 1 5 0 V4.5"/><circle cx="5" cy="7.6" r="0.6" fill="#7a7a7a"/></g>
<g transform="translate(289.7,596.9)" fill="none" stroke="#7a7a7a" stroke-width="1.1" stroke-linejoin="round"><path d="M0 2.5 H2 L3 -3 L4.5 3.5 L6 -3 L7.5 3.5 L9 -3 L10.5 3.5 L12 -3 L13 2.5 H14" stroke-width="1"/></g>
<g transform="translate(96.6,615.2)"><rect x="0.6" y="0.6" width="10.6" height="10.6" rx="1" fill="#e9e9e9" stroke="#555" stroke-width="1.2"/><path d="M3 10 L10.5 2.5 M1.5 7 L7 1.5" stroke="#aaa" stroke-width="0.8"/><path d="M6 12.5 L12.5 6" stroke="#555" stroke-width="1.6"/></g>
<g transform="translate(125.4,616.0)" fill="none" stroke="#7a7a7a" stroke-width="1"><rect x="0.5" y="4.5" width="9" height="6.5" rx="1"/><path d="M2.5 4.5 V2.8 a2.5 2.5 0 0 1 5 0 V4.5"/><circle cx="5" cy="7.6" r="0.6" fill="#7a7a7a"/></g>
<g transform="translate(289.7,621.05)" fill="none" stroke="#7a7a7a" stroke-width="1.1" stroke-linejoin="round"><circle cx="6.6" cy="0.3" r="6" stroke="#444" stroke-width="1.2"/><circle cx="6.6" cy="0.3" r="3.6" stroke="#444" stroke-width="1.2"/></g>
<rect x="402" y="613.9" width="82.6" height="14.6" fill="none" stroke="#2b4a66" stroke-width="1.2"/>
<circle cx="414.2" cy="621.3" r="5.3" fill="none" stroke="#2c4a66" stroke-width="1"/><circle cx="414.2" cy="621.3" r="3.3" fill="none" stroke="#2c4a66" stroke-width="1"/>
<path d="M426.4 613.9 V628.5" stroke="#2b4a66" stroke-width="1.1"/>
<path d="M444.5 613.9 V628.5" stroke="#2b4a66" stroke-width="1.1"/>
<path d="M457.1 613.9 V628.5" stroke="#2b4a66" stroke-width="1.1"/>
<path d="M469.8 613.9 V628.5" stroke="#2b4a66" stroke-width="1.1"/>
<g transform="translate(96.6,639.4)"><rect x="0.6" y="0.6" width="10.6" height="10.6" rx="1" fill="#e9e9e9" stroke="#555" stroke-width="1.2"/><path d="M3 10 L10.5 2.5 M1.5 7 L7 1.5" stroke="#aaa" stroke-width="0.8"/><path d="M6 12.5 L12.5 6" stroke="#555" stroke-width="1.6"/></g>
<g transform="translate(125.4,640.2)" fill="none" stroke="#7a7a7a" stroke-width="1"><rect x="0.5" y="4.5" width="9" height="6.5" rx="1"/><path d="M2.5 4.5 V2.8 a2.5 2.5 0 0 1 5 0 V4.5"/><circle cx="5" cy="7.6" r="0.6" fill="#7a7a7a"/></g>
<g transform="translate(289.7,645.2)" fill="none" stroke="#7a7a7a" stroke-width="1.1" stroke-linejoin="round"><path d="M0.3 -4 V4 M14.3 -4 V4 M2.5 0 H12 M2.5 0 l2 -1.5 M2.5 0 l2 1.5 M12 0 l-2 -1.5 M12 0 l-2 1.5" stroke-width="1"/></g>
<g transform="translate(96.6,663.6)"><rect x="0.6" y="0.6" width="10.6" height="10.6" rx="1" fill="#e9e9e9" stroke="#555" stroke-width="1.2"/><path d="M3 10 L10.5 2.5 M1.5 7 L7 1.5" stroke="#aaa" stroke-width="0.8"/><path d="M6 12.5 L12.5 6" stroke="#555" stroke-width="1.6"/></g>
<g transform="translate(125.4,664.4)" fill="none" stroke="#7a7a7a" stroke-width="1"><rect x="0.5" y="4.5" width="9" height="6.5" rx="1"/><path d="M2.5 4.5 V2.8 a2.5 2.5 0 0 1 5 0 V4.5"/><circle cx="5" cy="7.6" r="0.6" fill="#7a7a7a"/></g>
<g transform="translate(289.7,669.35)" fill="none" stroke="#7a7a7a" stroke-width="1.1" stroke-linejoin="round"><path d="M0.3 -4 V4 M14.3 -4 V4 M2.5 0 H12 M2.5 0 l2 -1.5 M2.5 0 l2 1.5 M12 0 l-2 -1.5 M12 0 l-2 1.5" stroke-width="1"/></g>
<g transform="translate(96.6,687.7)"><rect x="0.6" y="0.6" width="10.6" height="10.6" rx="1" fill="#e9e9e9" stroke="#555" stroke-width="1.2"/><path d="M3 10 L10.5 2.5 M1.5 7 L7 1.5" stroke="#aaa" stroke-width="0.8"/><path d="M6 12.5 L12.5 6" stroke="#555" stroke-width="1.6"/></g>
<g transform="translate(125.4,688.5)" fill="none" stroke="#7a7a7a" stroke-width="1"><rect x="0.5" y="4.5" width="9" height="6.5" rx="1"/><path d="M2.5 4.5 V2.8 a2.5 2.5 0 0 1 5 0 V4.5"/><circle cx="5" cy="7.6" r="0.6" fill="#7a7a7a"/></g>
<g transform="translate(289.7,693.5)" fill="none" stroke="#7a7a7a" stroke-width="1.1" stroke-linejoin="round"><path d="M0.3 -4 V4 M14.3 -4 V4 M2.5 0 H12 M2.5 0 l2 -1.5 M2.5 0 l2 1.5 M12 0 l-2 -1.5 M12 0 l-2 1.5" stroke-width="1"/></g>
<rect x="402" y="686.4" width="33" height="14.6" fill="none" stroke="#2b4a66" stroke-width="1.2"/>
<g transform="translate(96.6,711.9)"><rect x="0.6" y="0.6" width="10.6" height="10.6" rx="1" fill="#e9e9e9" stroke="#555" stroke-width="1.2"/><path d="M3 10 L10.5 2.5 M1.5 7 L7 1.5" stroke="#aaa" stroke-width="0.8"/><path d="M6 12.5 L12.5 6" stroke="#555" stroke-width="1.6"/></g>
<g transform="translate(125.4,712.6)" fill="none" stroke="#7a7a7a" stroke-width="1"><rect x="0.5" y="4.5" width="9" height="6.5" rx="1"/><path d="M2.5 4.5 V2.8 a2.5 2.5 0 0 1 5 0 V4.5"/><circle cx="5" cy="7.6" r="0.6" fill="#7a7a7a"/></g>
<g transform="translate(289.7,717.65)" fill="none" stroke="#7a7a7a" stroke-width="1.1" stroke-linejoin="round"><path d="M-0.5 4.5 A8 8 0 0 1 15.3 4.5 Z"/></g>
<rect x="402" y="710.5" width="82.6" height="14.6" fill="none" stroke="#2b4a66" stroke-width="1.2"/>
<path d="M407.2 721.1 A7 6.6 0 0 1 421.2 721.1" fill="none" stroke="#1f3d58" stroke-width="1.2"/><path d="M407.2 721.4 H421.2" stroke="#1f3d58" stroke-width="1.8"/>
<path d="M426.4 710.5 V725.1" stroke="#2b4a66" stroke-width="1.1"/>
<path d="M444.5 710.5 V725.1" stroke="#2b4a66" stroke-width="1.1"/>
<path d="M457.1 710.5 V725.1" stroke="#2b4a66" stroke-width="1.1"/>
<path d="M469.8 710.5 V725.1" stroke="#2b4a66" stroke-width="1.1"/>
<g transform="translate(96.6,736.0)"><rect x="0.6" y="0.6" width="10.6" height="10.6" rx="1" fill="#e9e9e9" stroke="#555" stroke-width="1.2"/><path d="M3 10 L10.5 2.5 M1.5 7 L7 1.5" stroke="#aaa" stroke-width="0.8"/><path d="M6 12.5 L12.5 6" stroke="#555" stroke-width="1.6"/></g>
<g transform="translate(125.4,736.8)" fill="none" stroke="#7a7a7a" stroke-width="1"><rect x="0.5" y="4.5" width="9" height="6.5" rx="1"/><path d="M2.5 4.5 V2.8 a2.5 2.5 0 0 1 5 0 V4.5"/><circle cx="5" cy="7.6" r="0.6" fill="#7a7a7a"/></g>
<g transform="translate(289.7,741.8)" fill="none" stroke="#7a7a7a" stroke-width="1.1" stroke-linejoin="round"><path d="M1.8 -4.5 H14 L12 5 H0 Z"/></g>
<rect x="402" y="734.7" width="48.5" height="14.6" fill="none" stroke="#2b4a66" stroke-width="1.2"/>
<path d="M410.7 738.5 H421.2 L417.3 745.5 H406.8 Z" fill="none" stroke="#1f3d58" stroke-width="1.5" stroke-linejoin="round"/>
<path d="M426.0 734.7 V749.3" stroke="#2b4a66" stroke-width="1.1"/>
<g transform="translate(96.6,760.2)"><rect x="0.6" y="0.6" width="10.6" height="10.6" rx="1" fill="#e9e9e9" stroke="#555" stroke-width="1.2"/><path d="M3 10 L10.5 2.5 M1.5 7 L7 1.5" stroke="#aaa" stroke-width="0.8"/><path d="M6 12.5 L12.5 6" stroke="#555" stroke-width="1.6"/></g>
<g transform="translate(125.4,761.0)" fill="none" stroke="#7a7a7a" stroke-width="1"><rect x="0.5" y="4.5" width="9" height="6.5" rx="1"/><path d="M2.5 4.5 V2.8 a2.5 2.5 0 0 1 5 0 V4.5"/><circle cx="5" cy="7.6" r="0.6" fill="#7a7a7a"/></g>
<g transform="translate(289.7,765.95)" fill="none" stroke="#7a7a7a" stroke-width="1.1" stroke-linejoin="round"><path d="M0.3 -4 V4 M14.3 -4 V4 M2.5 0 H12 M2.5 0 l2 -1.5 M2.5 0 l2 1.5 M12 0 l-2 -1.5 M12 0 l-2 1.5" stroke-width="1"/></g>
<rect x="402" y="758.9" width="38" height="14.6" fill="none" stroke="#2b4a66" stroke-width="1.2"/>
<g transform="translate(96.6,784.3)"><rect x="0.6" y="0.6" width="10.6" height="10.6" rx="1" fill="#e9e9e9" stroke="#555" stroke-width="1.2"/><path d="M3 10 L10.5 2.5 M1.5 7 L7 1.5" stroke="#aaa" stroke-width="0.8"/><path d="M6 12.5 L12.5 6" stroke="#555" stroke-width="1.6"/></g>
<g transform="translate(125.4,785.1)" fill="none" stroke="#7a7a7a" stroke-width="1"><rect x="0.5" y="4.5" width="9" height="6.5" rx="1"/><path d="M2.5 4.5 V2.8 a2.5 2.5 0 0 1 5 0 V4.5"/><circle cx="5" cy="7.6" r="0.6" fill="#7a7a7a"/></g>
<g transform="translate(289.7,790.1)" fill="none" stroke="#7a7a7a" stroke-width="1.1" stroke-linejoin="round"><path d="M0.3 -4 V4 M14.3 -4 V4 M2.5 0 H12 M2.5 0 l2 -1.5 M2.5 0 l2 1.5 M12 0 l-2 -1.5 M12 0 l-2 1.5" stroke-width="1"/></g>
<g transform="translate(96.6,808.5)"><rect x="0.6" y="0.6" width="10.6" height="10.6" rx="1" fill="#e9e9e9" stroke="#555" stroke-width="1.2"/><path d="M3 10 L10.5 2.5 M1.5 7 L7 1.5" stroke="#aaa" stroke-width="0.8"/><path d="M6 12.5 L12.5 6" stroke="#555" stroke-width="1.6"/></g>
<g transform="translate(125.4,809.2)" fill="none" stroke="#7a7a7a" stroke-width="1"><rect x="0.5" y="4.5" width="9" height="6.5" rx="1"/><path d="M2.5 4.5 V2.8 a2.5 2.5 0 0 1 5 0 V4.5"/><circle cx="5" cy="7.6" r="0.6" fill="#7a7a7a"/></g>
<g transform="translate(289.7,814.25)" fill="none" stroke="#7a7a7a" stroke-width="1.1" stroke-linejoin="round"><path d="M0 5 H14 M7 5 V-5.5"/></g>
<rect x="402" y="807.1" width="72.7" height="14.6" fill="none" stroke="#2b4a66" stroke-width="1.2"/>
<path d="M406.5 819.2 H421.5 M414.0 819.2 V808.8" fill="none" stroke="#6a7a8a" stroke-width="1"/>
<path d="M426.0 807.1 V821.8" stroke="#2b4a66" stroke-width="1.1"/>
<path d="M449.7 807.1 V821.8" stroke="#2b4a66" stroke-width="1.1"/>
<path d="M461.7 807.1 V821.8" stroke="#2b4a66" stroke-width="1.1"/>
</svg>
<div class="a" style="left:1180px;top:537px;width:31px;height:289.8px;background:linear-gradient(to right,rgba(255,255,255,0),rgba(255,255,255,0.85))"></div>
<!-- /TABLE -->

<!-- RIGHT PANEL -->
<div id="rpanel" class="a"></div>
<!-- RIGHT -->
<div class="a" style="left:1228.6px;top:29.5px;width:301.5px;height:31px;background:#eaecf0;border-radius:2px 2px 0 0"></div>
<div class="t" style="left:1240.3px;top:40.2px;font-size:12px;color:#555a5e;letter-spacing:-0.3px">PART PROPERTIES</div>
<div class="a" style="left:1227.5px;top:60.5px;width:304px;height:53.5px;background:#fff;box-shadow:0 4px 6px -3px rgba(0,0,0,0.13)"></div>
<div class="t" style="left:1234.6px;top:70px;font-size:12.5px;font-weight:bold;color:#3d3d3d;letter-spacing:-0.2px">Part</div>
<div class="t" style="left:1291px;top:70px;font-size:12.5px;font-weight:bold;color:#4a4a4a;letter-spacing:-0.45px">Tolerances</div>
<div class="t" style="left:1385.5px;top:70px;font-size:12.5px;font-weight:bold;color:#4a4a4a;letter-spacing:-0.45px">Designators</div>
<div class="t" style="left:1325px;top:96.7px;font-size:10px;color:#c7c7c7">Save</div>
<div class="t" style="left:1397.7px;top:96.7px;font-size:10px;color:#333;letter-spacing:-0.15px">Part Settings</div>
<div class="t" style="left:1234.6px;top:135.5px;font-size:8px;color:#9a9a9a;letter-spacing:0.15px">OWNER:</div>
<div class="a" style="left:1234.1px;top:146.1px;width:280.2px;height:23.9px;background:#eef3f8;border:1px solid #d6dde5"></div>
<div class="t" style="left:1243.4px;top:152.7px;font-size:11px;color:#405264">High QA Corp</div>
<div class="t" style="left:1234.6px;top:183.7px;font-size:8px;color:#9a9a9a;letter-spacing:0.15px">PART CATEGORY:</div>
<div class="a" style="left:1234.1px;top:194.3px;width:280.2px;height:23.6px;background:#eef3f8"></div>
<div class="t" style="left:1242.6px;top:200.9px;font-size:11px;color:#405264">0000 | Default</div>
<div class="t" style="left:1234.6px;top:231.8px;font-size:8px;color:#9a9a9a;letter-spacing:0.15px">PART NUMBER:</div>
<div class="a" style="left:1234.1px;top:242.4px;width:280.2px;height:23.6px;background:#eef3f8"></div>
<div class="t" style="left:1242.6px;top:249.0px;font-size:11px;color:#405264">CDemo1</div>
<div class="t" style="left:1234.6px;top:279.8px;font-size:8px;color:#9a9a9a;letter-spacing:0.15px">PART NAME:</div>
<div class="a" style="left:1234.1px;top:290.4px;width:228.1px;height:23.6px;background:#eef3f8"></div>
<div class="t" style="left:1242.6px;top:297.0px;font-size:11px;color:#405264">CDemo1</div>
<div class="t" style="left:1234.6px;top:327.8px;font-size:8px;color:#9a9a9a;letter-spacing:0.15px">UNITS:</div>
<div class="a" style="left:1234.1px;top:338.4px;width:280.2px;height:23.6px;background:#eef3f8"></div>
<div class="t" style="left:1242.6px;top:345.0px;font-size:11px;color:#405264">English (INCH)</div>
<div class="t" style="left:1234.6px;top:375.8px;font-size:8px;color:#9a9a9a;letter-spacing:0.15px">DESCRIPTION:</div>
<div class="a" style="left:1234.1px;top:386.4px;width:280.2px;height:23.6px;background:#eef3f8"></div>
<div class="t" style="left:1234.6px;top:423.8px;font-size:8px;color:#9a9a9a;letter-spacing:0.15px">PART TYPE:</div>
<div class="a" style="left:1234.1px;top:434.4px;width:280.2px;height:23.6px;background:#eef3f8"></div>
<div class="t" style="left:1242.6px;top:441.0px;font-size:11px;color:#405264">Standard Part</div>
<div class="t" style="left:1234.6px;top:471.8px;font-size:8px;color:#9a9a9a;letter-spacing:0.15px">PART PROGRAM:</div>
<div class="a" style="left:1234.1px;top:482.4px;width:280.2px;height:23.6px;background:#eef3f8"></div>
<div class="t" style="left:1242.6px;top:489.0px;font-size:11px;color:#405264">Default Program</div>
<div class="t" style="left:1234.6px;top:519.8px;font-size:8px;color:#9a9a9a;letter-spacing:0.15px">PART LOCATION:</div>
<div class="a" style="left:1234.1px;top:530.4px;width:280.2px;height:23.6px;background:#eef3f8"></div>
<div class="t" style="left:1242.6px;top:537.0px;font-size:11px;color:#405264">Default Location</div>
<div class="t" style="left:1234.6px;top:567.9px;font-size:8px;color:#9a9a9a;letter-spacing:0.15px">COLOR MARKER:</div>
<div class="a" style="left:1234.1px;top:578.5px;width:280.2px;height:23.6px;background:#eef3f8"></div>
<div class="t" style="left:1234.6px;top:655.9px;font-size:8px;color:#9a9a9a;letter-spacing:0.15px">ERP ID:</div>
<div class="a" style="left:1234.1px;top:666.5px;width:280.2px;height:23.6px;background:#eef3f8"></div>
<div class="t" style="left:1234.6px;top:703.8px;font-size:8px;color:#9a9a9a;letter-spacing:0.15px">BARCODE ID:</div>
<div class="a" style="left:1234.1px;top:714.4px;width:280.2px;height:23.6px;background:#eef3f8"></div>
<div class="t" style="left:1474.4px;top:279.8px;font-size:8px;color:#9a9a9a;letter-spacing:0.15px">REV.:</div>
<div class="a" style="left:1474.4px;top:290.4px;width:39.9px;height:23.6px;background:#eef3f8"></div>
<div class="t" style="left:1482.6px;top:297px;font-size:11px;color:#384a5c">A</div>
<div class="t" style="left:1234.6px;top:620px;font-size:12.3px;font-weight:bold;color:#555;letter-spacing:-0.1px">External Data</div>
<svg class="a" style="left:0;top:0;pointer-events:none" width="1536" height="864">
<path d="M1355.2 44.2 L1358.5 40.6 L1361.8 44.2 Z M1355.2 46.3 L1358.5 49.9 L1361.8 46.3 Z" fill="none" stroke="#8a949e" stroke-width="1"/>
<path d="M1496 39.4 H1509 M1496 43.8 H1509 M1496 48.3 H1509" stroke="#858d96" stroke-width="1.3"/>
<g fill="none" stroke="#4a4a4a" stroke-width="0.9" stroke-linejoin="round"><path d="M1523 33.5 l4 4 l-1.3 0.3 l-2.2 2.2 l-0.2 1.3 l-4.2 -4.2 l1.3 -0.2 l2.2 -2.2 Z M1520 38.8 l-2.2 2.2"/></g>
<path d="M1234.6 90.1 H1523.6" stroke="#e3e6e9" stroke-width="1.2"/>
<path d="M1234.6 89.2 H1258.5" stroke="#6cbc3f" stroke-width="2.4"/>
<g fill="none" stroke="#cfcfcf" stroke-width="1.1"><path d="M1306.8 95.5 h9.5 l2.2 2.2 v10 h-11.7 Z M1309.2 95.5 v3.5 h5.5 v-3.5 M1309.2 107.7 v-4.5 h7 v4.5"/></g>
<g transform="translate(1385.8,101.6)" fill="none" stroke="#444" stroke-width="1"><path d="M-1.3 -5.8 h2.6 l0.5 1.6 l1.5 0.8 l1.6 -0.6 l1.3 2.2 l-1.2 1.2 v1.6 l1.2 1.2 l-1.3 2.2 l-1.6 -0.6 l-1.5 0.8 l-0.5 1.6 h-2.6 l-0.5 -1.6 l-1.5 -0.8 l-1.6 0.6 l-1.3 -2.2 l1.2 -1.2 v-1.6 l-1.2 -1.2 l1.3 -2.2 l1.6 0.6 l1.5 -0.8 Z"/><circle cx="0" cy="0" r="2"/></g>
<path d="M1499 156.1 l4.4 4.4 l4.4 -4.4" fill="none" stroke="#66707a" stroke-width="1"/>
<path d="M1234.1 638.1 H1514.3" stroke="#e2e4e6" stroke-width="1.3"/>
</svg>
<!-- /RIGHT -->

</body></html>
